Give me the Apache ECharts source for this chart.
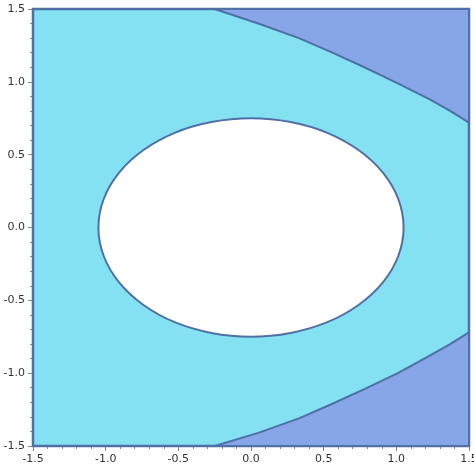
<!DOCTYPE html>
<html><head><meta charset="utf-8">
<script src="https://cdn.jsdelivr.net/npm/echarts@6/dist/echarts.min.js"></script>
<style>html,body{margin:0;background:#fff}#c{width:474px;height:474px}</style>
</head><body><div id="c"></div>
<script>
// boundary points
var plotBox = [[-1.5, -1.5], [1.5, -1.5], [1.5, 1.5], [-1.5, 1.5]];
var upperCurve = [[-0.25, 1.5], [0.05, 1.40], [0.33, 1.30], [0.56, 1.20], [0.78, 1.10], [1.01, 0.99], [1.23, 0.88], [1.37, 0.80], [1.5, 0.72]];
var lowerCurve = [[-0.25, -1.5], [0.05, -1.41], [0.33, -1.31], [0.56, -1.21], [0.78, -1.11], [1.01, -1.0], [1.23, -0.88], [1.37, -0.80], [1.5, -0.72]];
var ellipsePts = [
  [1.05, 0], [1.014, 0.194], [0.909, 0.375], [0.742, 0.53], [0.525, 0.65], [0.272, 0.724], [0, 0.75],
  [-0.272, 0.724], [-0.525, 0.65], [-0.742, 0.53], [-0.909, 0.375], [-1.014, 0.194], [-1.05, 0],
  [-1.014, -0.194], [-0.909, -0.375], [-0.742, -0.53], [-0.525, -0.65], [-0.272, -0.724], [0, -0.75],
  [0.272, -0.724], [0.525, -0.65], [0.742, -0.53], [0.909, -0.375], [1.014, -0.194]
];

var edge = '#4f6fa6';
var shapes = [
  {pts: plotBox, fill: '#84e1f1', smooth: 0},
  {pts: upperCurve.concat([[1.5, 1.5]]), fill: '#86a6e8', smooth: 0},
  {pts: lowerCurve.concat([[1.5, -1.5]]), fill: '#86a6e8', smooth: 0},
  {pts: ellipsePts, fill: '#ffffff', smooth: 0.3}
];

function axisCfg(pos, showLabel) {
  return {
    type: 'value', position: pos, min: -1.5, max: 1.5, interval: 0.5,
    axisLine: {show: true, onZero: false, lineStyle: {color: '#888', width: 1}},
    axisTick: {show: true, inside: !showLabel, length: 5, lineStyle: {color: '#888'}},
    minorTick: {show: true, splitNumber: 5, length: 3, lineStyle: {color: '#888'}},
    splitLine: {show: false},
    axisLabel: {show: showLabel, color: '#333', fontSize: 11, fontFamily: 'DejaVu Sans',
      formatter: function (v) { return v.toFixed(1); }}
  };
}

var chart = echarts.init(document.getElementById('c'));
chart.setOption({
  animation: false,
  grid: {left: 33, right: 5, top: 9, bottom: 28, outerBoundsMode: 'none'},
  xAxis: [axisCfg('bottom', true), axisCfg('top', false)],
  yAxis: [axisCfg('left', true), axisCfg('right', false)],
  series: [{
    type: 'custom',
    data: shapes.map(function (s, i) { return i; }),
    renderItem: function (params, api) {
      var s = shapes[params.dataIndex];
      var pts = s.pts.map(function (p) { return api.coord(p); });
      return {
        type: 'polygon',
        shape: {points: pts, smooth: s.smooth},
        style: {fill: s.fill, stroke: edge, lineWidth: params.dataIndex === 0 ? 2.5 : 2}
      };
    }
  }]
});
</script></body></html>
